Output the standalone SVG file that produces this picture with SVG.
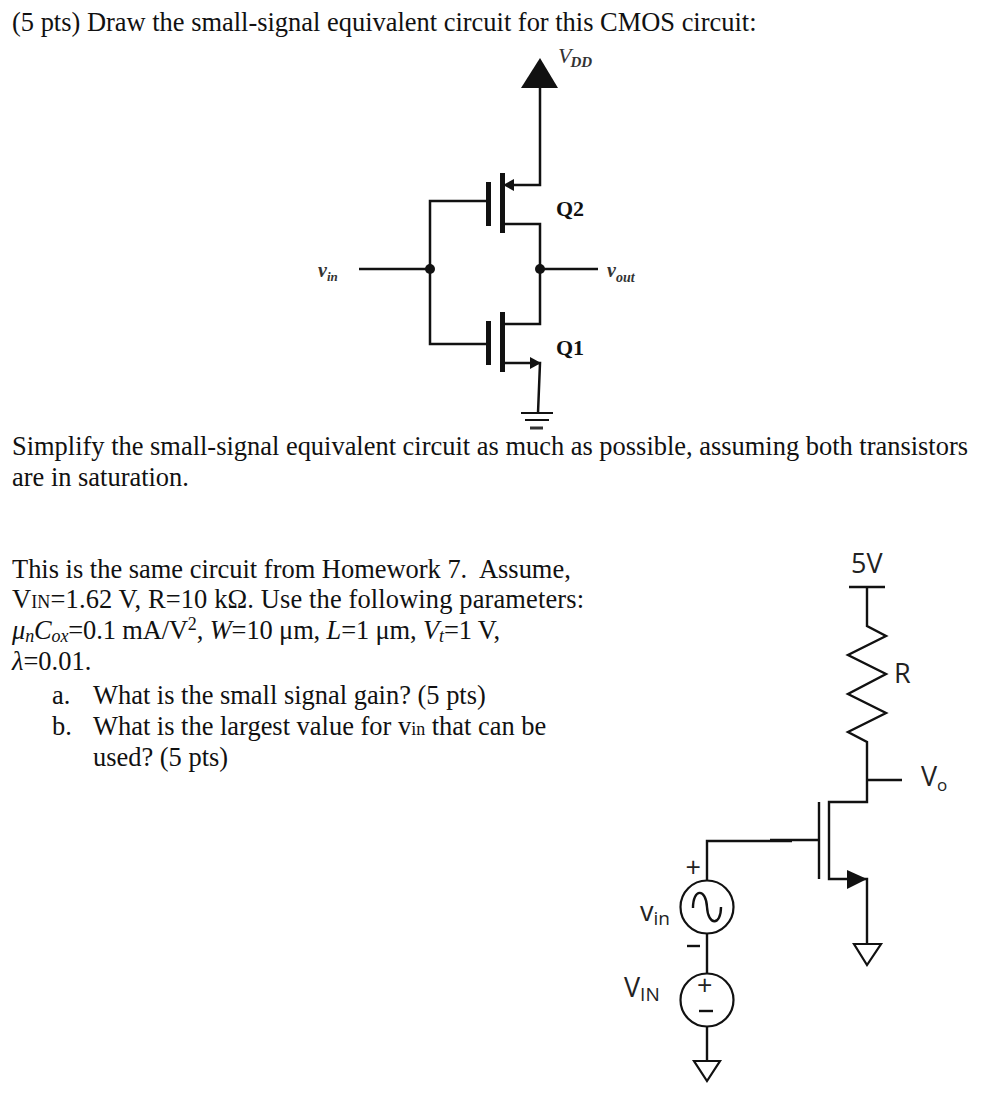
<svg xmlns="http://www.w3.org/2000/svg" width="990" height="1104" viewBox="0 0 990 1104">
<style>
.t{font-family:"Liberation Serif",serif;font-size:26.45px;fill:#111;white-space:pre}
.i{font-style:italic}
.b{font-weight:bold}
.s{font-family:"Open Sans",sans-serif;fill:#222;font-size:27px}
.w{fill:none;stroke:#111;stroke-width:2.5}
.w2{fill:none;stroke:#111;stroke-width:2.4}
.bar{fill:#111}
.g{fill:#fff;stroke:#111;stroke-width:2.2}
.q{font-size:22px}
.lab{font-size:20px;fill:#333}
</style>
<rect width="990" height="1104" fill="#fff"/>
<g id="question-text">
<text class="t" x="12" y="31">(5 pts) Draw the small-signal equivalent circuit for this CMOS circuit:</text>
<text class="t" x="12" y="455">Simplify the small-signal equivalent circuit as much as possible, assuming both transistors</text>
<text class="t" x="12" y="486">are in saturation.</text>
<text class="t" x="12" y="578">This is the same circuit from Homework 7.  Assume,</text>
<text class="t" x="12" y="608" textLength="572">V<tspan font-size="18">IN</tspan>=1.62 V, R=10 kΩ. Use the following parameters:</text>
<text class="t" x="12" y="639" textLength="488"><tspan class="i">μ<tspan font-size="18" dy="3">n</tspan><tspan dy="-3">C</tspan><tspan font-size="18" dy="3">ox</tspan></tspan><tspan dy="-3">=0.1 mA/V</tspan><tspan font-size="18" dy="-9">2</tspan><tspan dy="9">, </tspan><tspan class="i">W</tspan>=10 μm, <tspan class="i">L</tspan>=1 μm, <tspan class="i">V<tspan font-size="18" dy="3">t</tspan></tspan><tspan dy="-3">=1 V,</tspan></text>
<text class="t" x="12" y="670"><tspan class="i">λ</tspan>=0.01.</text>
<text class="t" x="52" y="704">a.</text>
<text class="t" x="93" y="704">What is the small signal gain? (5 pts)</text>
<text class="t" x="52" y="735">b.</text>
<text class="t" x="93" y="735">What is the largest value for v<tspan font-size="18">in</tspan> that can be</text>
<text class="t" x="93" y="766">used? (5 pts)</text>
</g>
<g id="connectors">
<path class="w" d="M540 88V185H510"/>
<path class="w" d="M486 201H430V344H486"/>
<path class="w" d="M359 269H430"/>
<path class="w" d="M504 224H540V324H504"/>
<path class="w" d="M540 269H598"/>
<path class="w" d="M504 363H540L538 413"/>
<path class="w2" d="M867 587V626L886 636L848 655L886 674L848 694L886 713L848 732L867 742V802H829V879H867V944"/>
<path class="w2" d="M867 780H902"/>
<path class="w2" d="M819 840H770"/>
<path class="w2" d="M792 841H707V881"/>
<path class="w2" d="M707 934V973"/>
<path class="w2" d="M707 1027V1061"/>
</g>
<g id="vdd">
<polygon class="bar" points="540,58 558,88 521,88"/>
<text class="t i" x="558" y="63" style="font-size:22px;fill:#333">V<tspan style="font-size:15px;font-weight:bold" dy="4" dx="-1">DD</tspan></text>
</g>
<g id="q2">
<rect class="bar" x="486" y="182" width="5" height="44"/>
<rect class="bar" x="500" y="173" width="5" height="60"/>
<polygon class="bar" points="503,185 514,179 514,191"/>
<text class="t b q" x="556" y="216">Q2</text>
</g>
<g id="q1">
<rect class="bar" x="486" y="321" width="5" height="44"/>
<rect class="bar" x="500" y="312" width="5" height="60"/>
<polygon class="bar" points="541,363 530,357 530,369"/>
<text class="t b q" x="556" y="355">Q1</text>
</g>
<g id="node-vin">
<circle class="bar" cx="430" cy="269" r="5"/>
<text class="t i b lab" x="318" y="277">v<tspan style="font-size:13px" dy="4">in</tspan></text>
</g>
<g id="node-vout">
<circle class="bar" cx="540" cy="269" r="5"/>
<text class="t i b lab" x="607" y="277">v<tspan style="font-size:14px" dy="5">out</tspan></text>
</g>
<g id="ground-1">
<path d="M521 413H553M525 420H549" stroke="#111" stroke-width="2" fill="none"/>
<path d="M530 428H543" stroke="#333" stroke-width="3" fill="none"/>
</g>
<g id="supply-5v">
<path class="w2" d="M849 587H885"/>
<text class="s" x="851" y="573">5V</text>
</g>
<g id="resistor-label"><text class="s" x="894" y="683">R</text></g>
<g id="vo-label"><text class="s" x="921" y="786">V<tspan font-size="17" dy="5">o</tspan></text></g>
<g id="mosfet">
<path class="w2" d="M819 802V879"/>
<polygon class="bar" points="847,870 867,879 847,889"/>
</g>
<g id="ground-2"><polygon class="g" points="854,944 881,944 867,965"/></g>
<g id="source-vin">
<circle cx="707" cy="907" r="26.5" fill="#fff" stroke="#111" stroke-width="2.2"/>
<path class="w2" d="M693 908C693 888 706 888 707 907C708 926 721 926 721 907"/>
<text class="s" x="685.5" y="877">+</text>
<path class="w2" d="M687 946H700"/>
<text class="s" x="640" y="921">v<tspan font-size="19" dy="4">in</tspan></text>
</g>
<g id="source-VIN">
<circle cx="707" cy="1000" r="26.5" fill="#fff" stroke="#111" stroke-width="2.2"/>
<text class="s" x="697" y="995">+</text>
<path class="w2" d="M699 1011H713"/>
<text class="s" x="624" y="997">V<tspan font-size="19" dy="4">IN</tspan></text>
</g>
<g id="ground-3"><polygon class="g" points="694,1061 720,1061 707,1081"/></g>
</svg>
